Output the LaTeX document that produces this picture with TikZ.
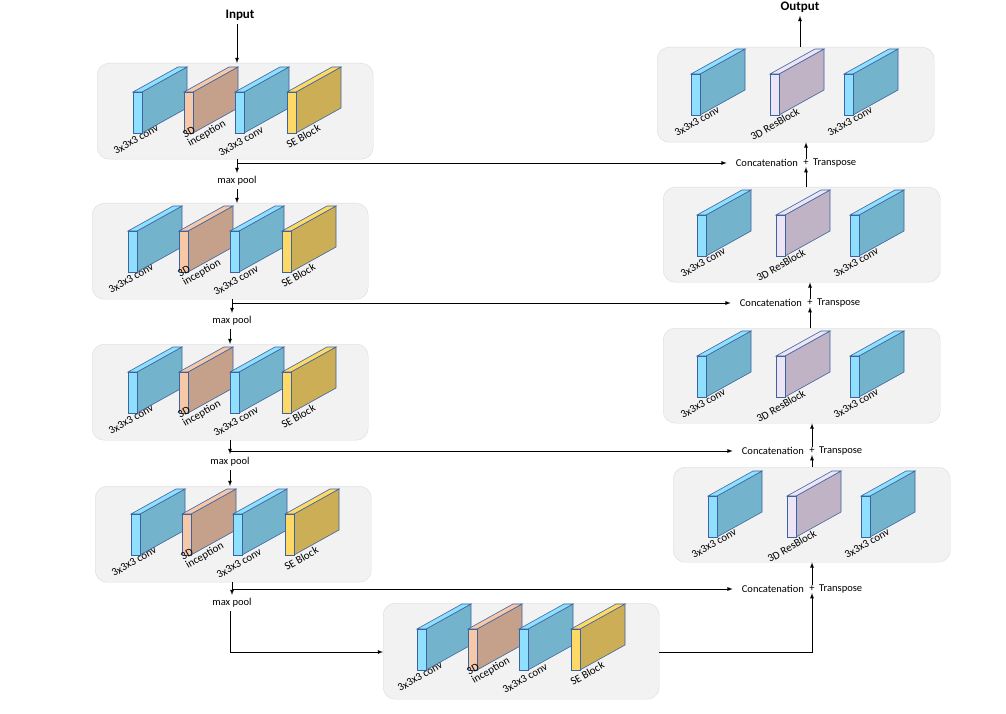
\documentclass[tikz,border=0pt]{standalone}
\usepackage{fontspec}
\setmainfont{Carlito}
\begin{document}
\definecolor{edge}{HTML}{3C64A0}
\definecolor{cvF}{HTML}{8FDFFF}\definecolor{cvS}{HTML}{73B4CC}
\definecolor{inF}{HTML}{F7C8A8}\definecolor{inS}{HTML}{C5A08A}
\definecolor{seF}{HTML}{FFD966}\definecolor{seS}{HTML}{CBAE55}
\definecolor{rsF}{HTML}{EDE4F5}\definecolor{rsS}{HTML}{C0B3C6}
\definecolor{panel}{HTML}{F2F2F2}
\begin{tikzpicture}[x=1pt,y=-1pt,
  panel/.style={fill=panel,draw=panel!80!gray,rounded corners=12pt},
  lbl/.style={font=\fontsize{11}{10}\selectfont,rotate=30,anchor=base west,inner sep=0pt,align=left},
  txt/.style={font=\fontsize{10.5}{11}\selectfont},
  arr/.style={-latex,line width=0.8pt},
  pics/slab/.style 2 args={code={
    \draw[fill=#2,draw=edge,line width=0.6pt] (9,0)--(9,-41)--(54,-66)--(54,-25)--cycle;
    \draw[fill=#1,draw=edge,line width=0.6pt] (0,-41)--(9,-41)--(54,-66)--(45,-66)--cycle;
    \draw[fill=#1,draw=edge,line width=0.6pt] (0,0) rectangle (9,-41);
  }}]
\useasboundingbox (0,0) rectangle (1006,714);
\newcommand{\encrow}[5]{%
  \node[panel,minimum width=276pt,minimum height=96pt,anchor=north west,inner sep=0pt] (#1) at (#2,#3) {};
  \pic at (#4,#5) {slab={cvF}{cvS}};
  \pic at ({#4+51},#5) {slab={inF}{inS}};
  \pic at ({#4+102},#5) {slab={cvF}{cvS}};
  \pic at ({#4+154},#5) {slab={seF}{seS}};
  \node[lbl] at ({#4-17},{#5+22}) {3x3x3 conv};
  \node[lbl] at ({#4+57},{#5+14}) {3D\\inception};
  \node[lbl] at ({#4+88},{#5+24}) {3x3x3 conv};
  \node[lbl] at ({#4+156},{#5+16}) {SE Block};
}
\newcommand{\decrow}[5]{%
  \node[panel,minimum width=277pt,minimum height=95pt,anchor=north west,inner sep=0pt] (#1) at (#2,#3) {};
  \pic at (#4,#5) {slab={cvF}{cvS}};
  \pic at ({#4+79},#5) {slab={rsF}{rsS}};
  \pic at ({#4+153},#5) {slab={cvF}{cvS}};
  \node[lbl] at ({#4-14},{#5+22}) {3x3x3 conv};
  \node[lbl] at ({#4+62},{#5+26}) {3D ResBlock};
  \node[lbl] at ({#4+139},{#5+22}) {3x3x3 conv};
}
\encrow{e1}{97}{63}{133}{133}
\encrow{e2}{92}{203}{128}{272}
\encrow{e3}{92}{344}{128}{413}
\encrow{e4}{95}{486}{131}{555}
\encrow{bn}{383}{603}{417}{670}
\decrow{d1}{657}{47}{691}{115}
\decrow{d2}{663}{187}{697}{256}
\decrow{d3}{663}{328}{697}{397}
\decrow{d4}{673}{467}{708}{537}

\node[font=\bfseries\fontsize{13}{13}\selectfont] (in) at (240,15) {Input};
\node[font=\bfseries\fontsize{13}{13}\selectfont] (out) at (800,7) {Output};
\draw[arr] (in.south -| 237,0) -- (e1.north -| 237,0);
\draw[arr] (d1.north -| 800,0) -- (out.south -| 800,0);

\node[txt] (m1) at (237,181) {max pool};
\node[txt] (m2) at (232,321) {max pool};
\node[txt] (m3) at (230,462) {max pool};
\node[txt] (m4) at (232,603) {max pool};
\draw[arr] (e1.south -| 237,0) -- (m1.north -| 237,0);
\draw[arr] (m1.south -| 237,0) -- (e2.north -| 237,0);
\draw[arr] (e2.south -| 232,0) -- (m2.north -| 232,0);
\draw[arr] (m2.south -| 230,0) -- (e3.north -| 230,0);
\draw[arr] (e3.south -| 230,0) -- (m3.north -| 230,0);
\draw[arr] (m3.south -| 230,0) -- (e4.north -| 230,0);
\draw[arr] (e4.south -| 232,0) -- (m4.north -| 232,0);
\draw[arr] (m4.south -| 230,0) |- (bn.west |- 0,652);

\newcommand{\concat}[4]{%
  \node[txt,anchor=center,inner sep=1pt] (#1) at (#2,#3) {+};
  \node[txt,anchor=east,inner sep=1pt] (#1c) at ({#2-7},#3) {Concatenation};
  \node[txt,anchor=west,inner sep=1pt] (#1t) at ({#2+6},#3) {Transpose};
  \draw[arr] (#4,#3) -- ([xshift=-8pt]#1c.west);
}
\concat{c1}{806}{163}{237}
\concat{c2}{810}{303}{232}
\concat{c3}{812}{451}{230}
\concat{c4}{812}{589}{232}
\draw[arr] (c1.north) -- (d1.south -| c1);
\draw[arr] (d2.north -| c1) -- (c1.south);
\draw[arr] (c2.north) -- (d2.south -| c2);
\draw[arr] (d3.north -| c2) -- (c2.south);
\draw[arr] (c3.north) -- (d3.south -| c3);
\draw[arr] (d4.north -| c3) -- (c3.south);
\draw[arr] (c4.north) -- (d4.south -| c4);
\draw[arr] (bn.east |- 0,652) -| (c4.south);
\end{tikzpicture}
\end{document}
